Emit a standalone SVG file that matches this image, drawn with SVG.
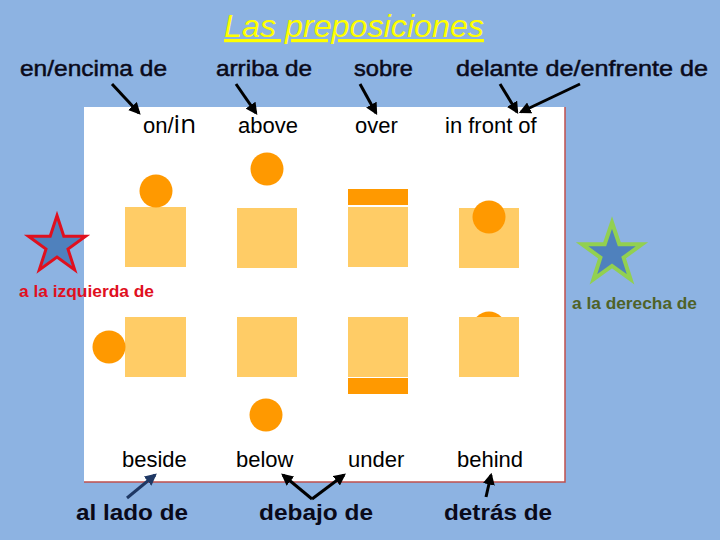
<svg xmlns="http://www.w3.org/2000/svg" width="720" height="540" viewBox="0 0 720 540">
<defs>
<style>
.lbl{font-family:"Liberation Sans",Arial,sans-serif;font-size:22px;fill:#0A0A1A;stroke:#0A0A1A;stroke-width:0.5}
.lbb{font-family:"Liberation Sans",Arial,sans-serif;font-size:22px;font-weight:bold;fill:#0A0A1A}
.en{font-family:"Liberation Sans",Arial,sans-serif;font-size:22px;fill:#000}
.sq{fill:#FFCC66}
.dk{fill:#FF9900}
</style>
<marker id="ahb" viewBox="0 0 10 10" refX="8" refY="5" markerWidth="4" markerHeight="4" orient="auto" markerUnits="strokeWidth">
<path d="M0,0 L10,5 L0,10 Z" fill="#1F3864"/>
</marker>
<marker id="ahk" viewBox="0 0 10 10" refX="8" refY="5" markerWidth="4" markerHeight="4" orient="auto" markerUnits="strokeWidth">
<path d="M0,0 L10,5 L0,10 Z" fill="#000"/>
</marker>
</defs>
<rect width="720" height="540" fill="#8DB3E2"/>
<g id="panel">
<rect x="84" y="107" width="481" height="375" fill="#fff"/>
<path d="M565,107 V482 H84" stroke="#C0504D" stroke-width="1.5" fill="none"/>
</g>
<g id="title">
<text x="354" y="37" text-anchor="middle" font-family="'Liberation Sans',Arial,sans-serif" font-size="32" font-style="italic" fill="#FFFF00" text-decoration="underline" textLength="260" lengthAdjust="spacingAndGlyphs">Las preposiciones</text>
</g>
<g id="labels-top">
<text class="lbl" x="20" y="76" textLength="147" lengthAdjust="spacingAndGlyphs">en/encima de</text>
<text class="lbl" x="216" y="76" textLength="96" lengthAdjust="spacingAndGlyphs">arriba de</text>
<text class="lbl" x="354" y="76" textLength="59" lengthAdjust="spacingAndGlyphs">sobre</text>
<text class="lbl" x="456" y="76" textLength="252" lengthAdjust="spacingAndGlyphs">delante de/enfrente de</text>
</g>
<g id="labels-bottom">
<text class="lbb" x="76" y="520" textLength="112" lengthAdjust="spacingAndGlyphs">al lado de</text>
<text class="lbb" x="259" y="520" textLength="114" lengthAdjust="spacingAndGlyphs">debajo de</text>
<text class="lbb" x="444" y="520" textLength="108" lengthAdjust="spacingAndGlyphs">detrás de</text>
</g>
<g id="en-labels">
<text class="en" x="143" y="133">on/<tspan font-size="26" font-family="'Open Sans',sans-serif">in</tspan></text>
<text class="en" x="238" y="133">above</text>
<text class="en" x="355" y="133">over</text>
<text class="en" x="445" y="133">in front of</text>
<text class="en" x="122" y="467">beside</text>
<text class="en" x="236" y="467">below</text>
<text class="en" x="348" y="467">under</text>
<text class="en" x="457" y="467">behind</text>
</g>
<g id="on">
<rect class="sq" x="125" y="207" width="61" height="60"/>
<circle class="dk" cx="156" cy="191" r="16.5"/>
</g>
<g id="above">
<rect class="sq" x="237" y="208" width="60" height="60"/>
<circle class="dk" cx="267" cy="169" r="16.5"/>
</g>
<g id="over">
<rect class="sq" x="348" y="207" width="60" height="60"/>
<rect class="dk" x="348" y="189" width="60" height="16"/>
</g>
<g id="infront">
<rect class="sq" x="459" y="208" width="60" height="60"/>
<circle class="dk" cx="489" cy="217" r="16.5"/>
</g>
<g id="beside">
<rect class="sq" x="125" y="317" width="61" height="60"/>
<circle class="dk" cx="109" cy="347" r="16.5"/>
</g>
<g id="below">
<rect class="sq" x="237" y="317" width="60" height="60"/>
<circle class="dk" cx="266" cy="415" r="16.5"/>
</g>
<g id="under">
<rect class="sq" x="348" y="317" width="60" height="60"/>
<rect class="dk" x="348" y="378" width="60" height="16"/>
</g>
<g id="behind">
<circle class="dk" cx="489" cy="328" r="16.5"/>
<rect class="sq" x="459" y="317" width="60" height="60"/>
</g>
<g id="left">
<polygon points="57,215.5 63.8,236.3 85.6,236.3 68,249.1 74.7,269.9 57,257.1 39.3,269.9 46,249.1 28.4,236.3 50.2,236.3" fill="#4F81BD" stroke="#E0101E" stroke-width="3" stroke-linejoin="miter"/>
<text x="19" y="297" font-family="'Liberation Sans',Arial,sans-serif" font-size="16" font-weight="bold" fill="#E0101E" textLength="135" lengthAdjust="spacingAndGlyphs">a la izquierda de</text>
</g>
<g id="right">
<polygon points="612,222.5 619.3,244.2 642,244.2 623.6,257.6 630.6,279.3 612,265.9 593.4,279.3 600.4,257.6 582,244.2 604.7,244.2" fill="#4F81BD" stroke="#92D050" stroke-width="4" stroke-linejoin="miter"/>
<text x="572" y="309" font-family="'Liberation Sans',Arial,sans-serif" font-size="16" font-weight="bold" fill="#4F6228" textLength="125" lengthAdjust="spacingAndGlyphs">a la derecha de</text>
</g>
<g id="connectors">
<line x1="112" y1="84" x2="139" y2="113" stroke="#000" stroke-width="3" marker-end="url(#ahk)"/>
<line x1="236" y1="84" x2="256" y2="113" stroke="#000" stroke-width="3" marker-end="url(#ahk)"/>
<line x1="360" y1="84" x2="376" y2="113" stroke="#000" stroke-width="3" marker-end="url(#ahk)"/>
<line x1="500" y1="84" x2="517" y2="112" stroke="#000" stroke-width="3" marker-end="url(#ahk)"/>
<line x1="580" y1="84" x2="521" y2="112" stroke="#000" stroke-width="3" marker-end="url(#ahk)"/>
<line x1="127" y1="498" x2="155" y2="475" stroke="#1F3864" stroke-width="3" marker-end="url(#ahb)"/>
<line x1="312" y1="499" x2="283" y2="475" stroke="#000" stroke-width="3" marker-end="url(#ahk)"/>
<line x1="312" y1="499" x2="344" y2="475" stroke="#000" stroke-width="3" marker-end="url(#ahk)"/>
<line x1="486" y1="497" x2="491" y2="475" stroke="#000" stroke-width="3" marker-end="url(#ahk)"/>
</g>
</svg>
